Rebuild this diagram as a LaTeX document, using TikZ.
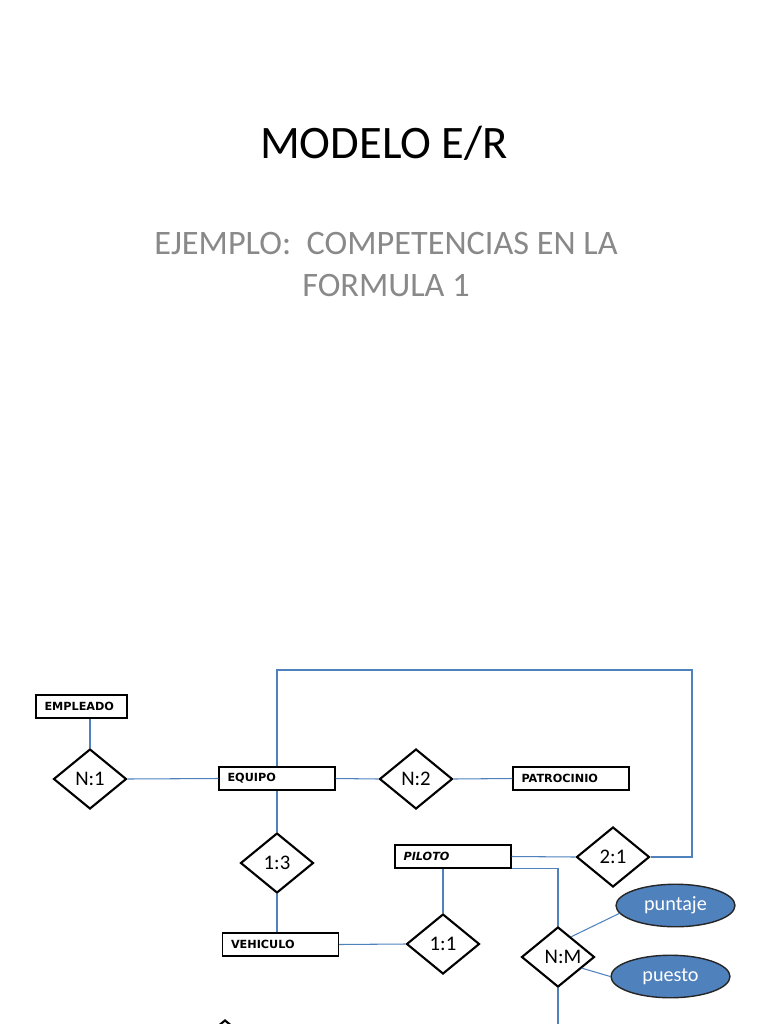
\documentclass[tikz,border=0pt]{standalone}
\usepackage{fontspec}
\setmainfont{Carlito}
\newfontfamily\entfont{DejaVu Sans}
\usetikzlibrary{shapes.geometric,calc}
\definecolor{erLine}{RGB}{79,129,189}
\definecolor{erFill}{RGB}{79,129,189}
\definecolor{erGray}{RGB}{137,137,137}

\tikzset{
  entidad/.style={draw=black, line width=0.6pt, fill=white, minimum height=0.46cm,
    inner xsep=0.17cm, inner ysep=0pt, text width=#1, align=left,
    font=\entfont\bfseries\fontsize{6.4}{7}\selectfont},
  relacion/.style={diamond, draw=black, line width=1.2pt, fill=white, minimum width=1.46cm,
    minimum height=1.2cm, inner sep=0pt, font=\fontsize{11.8}{13}\selectfont},
  atributo/.style={ellipse, draw=black!85, line width=0.8pt, fill=erFill, minimum width=2.38cm,
    minimum height=0.85cm, inner sep=0pt, text=white, font=\fontsize{11.5}{13}\selectfont},
  conector/.style={draw=erLine, line width=0.6pt}
}

\begin{document}
\begin{tikzpicture}[x=0.02cm,y=-0.02cm]
        \clip (0,0) rectangle (768,1024);
        \node[font=\fontsize{26.5}{30}\selectfont] (titulo) at (384,143) {MODELO E/R};
        \node[align=center, text=erGray, font=\fontsize{19.5}{23.9}\selectfont] (subtitulo) at (386,265)
          {EJEMPLO:\ \ COMPETENCIAS EN LA\\FORMULA 1};

        % entidades
        \node[entidad=1.48cm] (empleado) at (81.5,706.5) {EMPLEADO};
        \foreach \nombre/\x/\y/\txt in {equipo/277/778.5/EQUIPO,patrocinio/571/778.5/PATROCINIO,
            vehiculo/280.5/944.5/VEHICULO,piloto/453/856.5/\itshape PILOTO} {
          \node[entidad=1.98cm] (\nombre) at (\x,\y) {\txt};
        }

        % relaciones
        \foreach \nombre/\x/\y/\txt in {rNuno/90/779/N:1,rNdos/416/779/N:2,rUnoTres/277/863/1:3,
            rUnoUno/443/944/1:1,rDosUno/613/857/2:1,rNM/558/957/\hspace*{0.2cm}N:M,rBajo/225/1050/{}} {
          \node[relacion] (\nombre) at (\x,\y) {\txt};
        }

        % atributos
        \node[atributo] (puntaje) at (675.5,905.5) {puntaje};
        \node[atributo] (puesto) at (670.5,976.5) {puesto};

        \coordinate (esquina) at (692,670);
        \coordinate (finNM) at (558,1024);

        \draw[conector] (rNuno.north) -- (rNuno.north |- empleado.south);
        \draw[conector] (rNuno.east) -- (equipo.west);
        \draw[conector] (equipo.east) -- (rNdos.west);
        \draw[conector] (rNdos.east) -- (patrocinio.west);
        \draw[conector] (equipo.south) -- (rUnoTres.north);
        \draw[conector] (rUnoTres.south) -- (rUnoTres.south |- vehiculo.north);
        \draw[conector] (vehiculo.east) -- (rUnoUno.west);
        \draw[conector] (rUnoUno.north) -- (rUnoUno.north |- piloto.south);
        \draw[conector] (piloto.east) -- (rDosUno.west);
        \draw[conector] (equipo.north) |- (esquina) |- (rDosUno.east);
        \draw[conector] (piloto.south east) -| (rNM.north);
        \draw[conector] (rNM.57) -- (puntaje.188);
        \draw[conector] (rNM.-25) -- (puesto.west);
        \draw[conector] (rNM.south) -- (finNM);
      \end{tikzpicture}
\end{document}
